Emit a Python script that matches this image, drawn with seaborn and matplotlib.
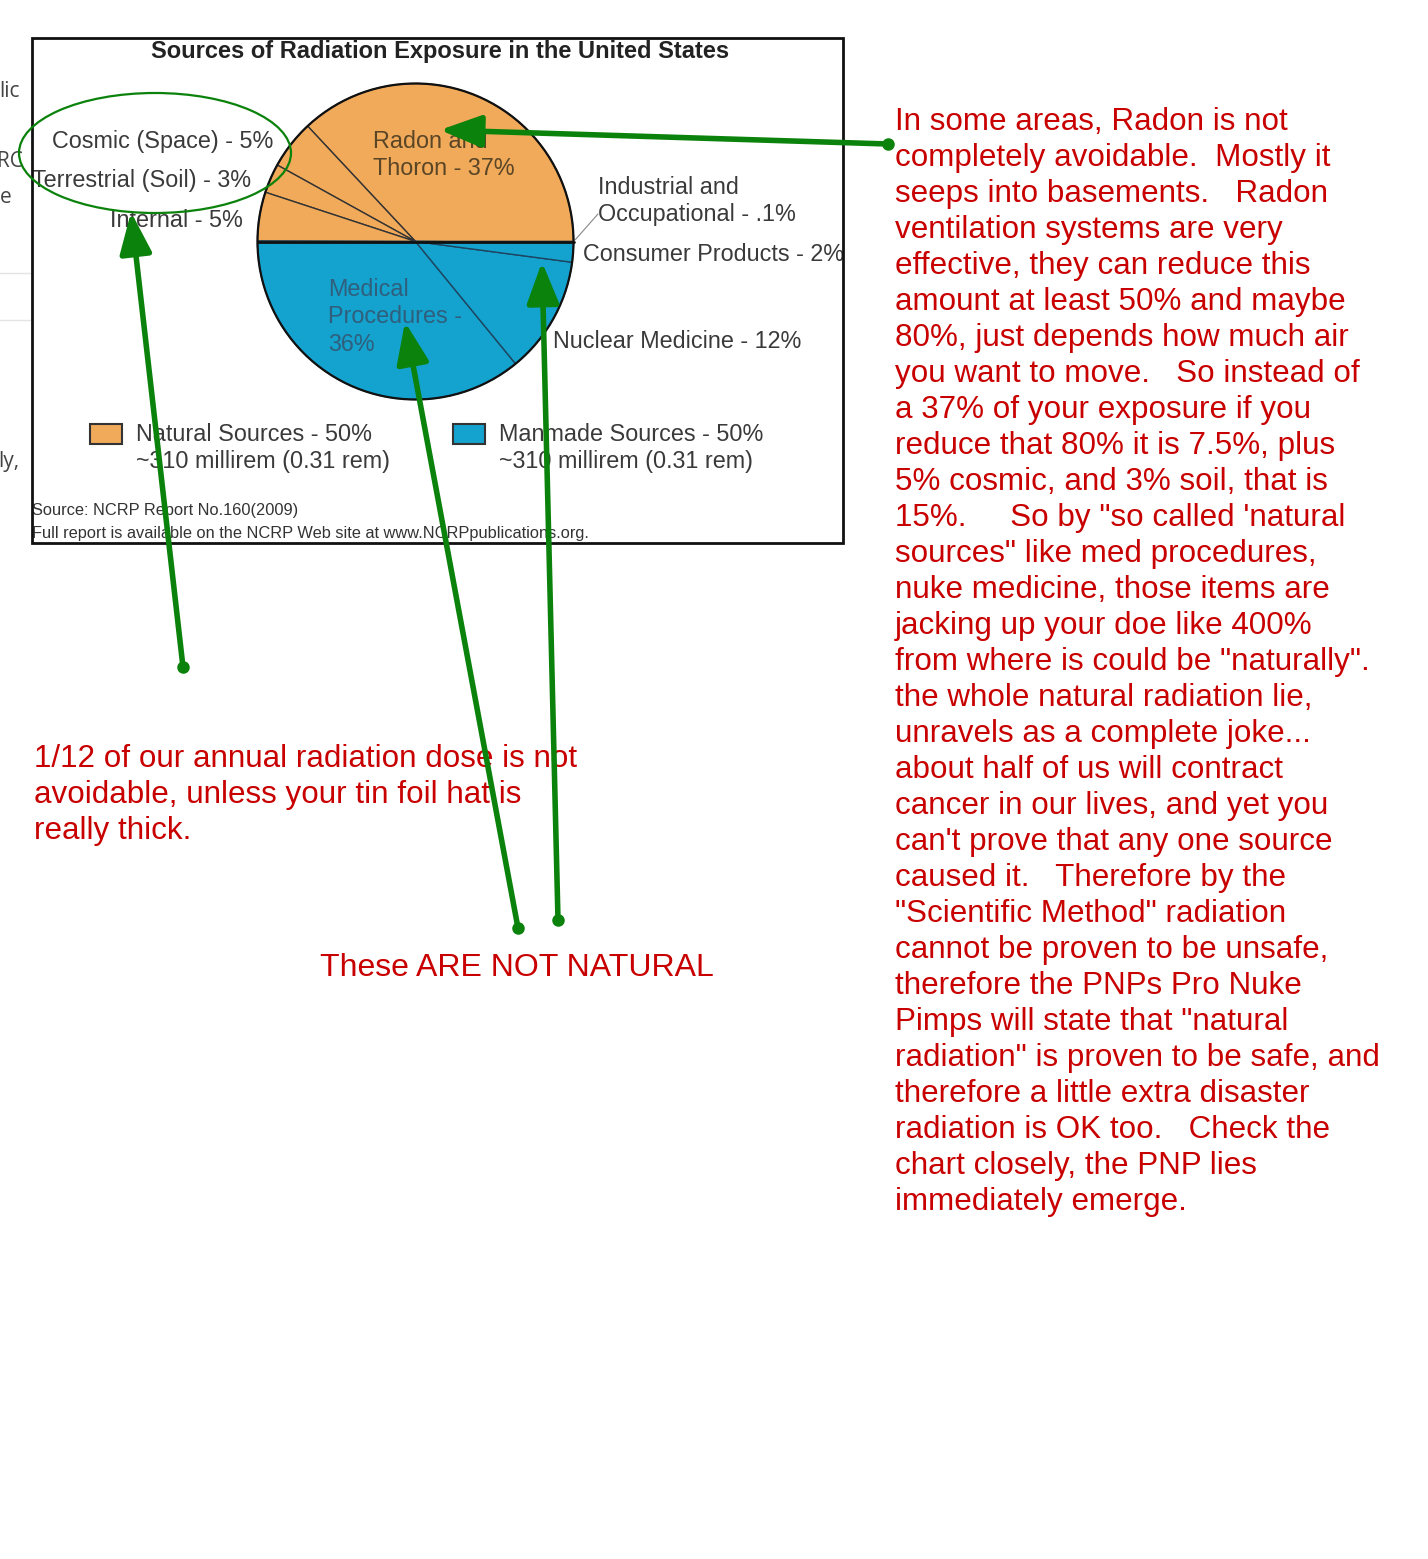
import matplotlib

matplotlib.use('Agg')

import matplotlib.pyplot as plt
import matplotlib.patches as mpatches
import seaborn as sns
import numpy as np

# pie data, counter-clockwise from 3 o'clock
slice_labels = ['Radon and Thoron', 'Cosmic (Space)', 'Terrestrial (Soil)', 'Internal',
                'Medical Procedures', 'Nuclear Medicine', 'Consumer Products',
                'Industrial and Occupational']
slice_pct = [37, 5, 3, 5, 36, 12, 2, 0.1]
slice_group = ['natural'] * 4 + ['manmade'] * 4

group_names = ['Natural Sources - 50%', 'Manmade Sources - 50%']
group_dose = ['~310 millirem (0.31 rem)', '~310 millirem (0.31 rem)']

right_note = [
    'In some areas, Radon is not',
    'completely avoidable.  Mostly it',
    'seeps into basements.   Radon',
    'ventilation systems are very',
    'effective, they can reduce this',
    'amount at least 50% and maybe',
    '80%, just depends how much air',
    'you want to move.   So instead of',
    'a 37% of your exposure if you',
    'reduce that 80% it is 7.5%, plus',
    '5% cosmic, and 3% soil, that is',
    '15%.     So by "so called \'natural',
    'sources" like med procedures,',
    'nuke medicine, those items are',
    'jacking up your doe like 400%',
    'from where is could be "naturally".',
    'the whole natural radiation lie,',
    'unravels as a complete joke...',
    'about half of us will contract',
    'cancer in our lives, and yet you',
    "can't prove that any one source",
    'caused it.   Therefore by the',
    '"Scientific Method" radiation',
    'cannot be proven to be unsafe,',
    'therefore the PNPs Pro Nuke',
    'Pimps will state that "natural',
    'radiation" is proven to be safe, and',
    'therefore a little extra disaster',
    'radiation is OK too.   Check the',
    'chart closely, the PNP lies',
    'immediately emerge.',
]
left_note = [
    '1/12 of our annual radiation dose is not',
    'avoidable, unless your tin foil hat is',
    'really thick.',
]
bottom_note = 'These ARE NOT NATURAL'

sns.set_theme(style='white')
plt.rcParams['font.family'] = ['Liberation Sans', 'DejaVu Sans']

ORANGE = '#F0AA5A'
BLUE = '#14A2CE'
RED = '#C80000'
GREEN = '#0B820B'
GRAY = '#3a3a3a'

W, H = 1428, 1559
fig = plt.figure(figsize=(W / 100, H / 100), dpi=100)
ax = fig.add_axes([0, 0, 1, 1])

cx, cy, r = 415.5, 241.5, 158
colors = [ORANGE if g == 'natural' else BLUE for g in slice_group]
wedges, _ = ax.pie(slice_pct, colors=colors, center=(cx, cy), radius=r,
                   startangle=0, counterclock=False,
                   wedgeprops=dict(linewidth=1.0, edgecolor='#333333'))
for w, g in zip(wedges, slice_group):
    if g == 'manmade':
        w.set_edgecolor('#1d4560')
ax.add_patch(mpatches.Circle((cx, cy), r, fill=False, ec='#111111', lw=1.6, zorder=3))
ax.plot([cx - r, cx + r], [cy, cy], color='#111111', lw=2, zorder=3)

ax.set_xlim(0, W)
ax.set_ylim(H, 0)
ax.axis('off')

# chart frame
box = mpatches.Rectangle((32, 38), 811, 505, fill=False, ec='#111111', lw=2, zorder=4)
ax.add_patch(box)

ax.text(440, 58, 'Sources of Radiation Exposure in the United States', ha='center',
        va='baseline', fontsize=17, fontweight='bold', color='#222222')

FS = 16.8
lab = dict(va='baseline', fontsize=FS, color=GRAY)
ax.text(52, 148, 'Cosmic (Space) - 5%', **lab)
ax.text(32, 187, 'Terrestrial (Soil) - 3%', **lab)
ax.text(110, 227, 'Internal - 5%', **lab)
ax.text(373, 148, 'Radon and', va='baseline', fontsize=FS, color='#5a4526')
ax.text(373, 175, 'Thoron - 37%', va='baseline', fontsize=FS, color='#5a4526')
ax.text(598, 194, 'Industrial and', **lab)
ax.text(598, 221, 'Occupational - .1%', **lab)
t = ax.text(583, 261, 'Consumer Products - 2%', **lab)
t.set_clip_path(box)
ax.text(328, 296, 'Medical', va='baseline', fontsize=FS, color='#2f5f7c')
ax.text(328, 323, 'Procedures -', va='baseline', fontsize=FS, color='#2f5f7c')
ax.text(328, 351, '36%', va='baseline', fontsize=FS, color='#2f5f7c')
ax.text(553, 348, 'Nuclear Medicine - 12%', **lab)
ax.plot([575, 598], [240, 214], color='#888888', lw=0.8)

# legend
for x0, c, name, dose in zip([90, 453], [ORANGE, BLUE], group_names, group_dose):
    ax.add_patch(mpatches.Rectangle((x0, 424), 32, 20, fc=c, ec='#333333', lw=1.5))
    ax.text(x0 + 46, 441, name, **lab)
    ax.text(x0 + 46, 468, dose, **lab)

ax.text(32, 515, 'Source: NCRP Report No.160(2009)', va='baseline', fontsize=11.8, color='#333333')
ax.text(32, 538, 'Full report is available on the NCRP Web site at www.NCRPpublications.org.',
        va='baseline', fontsize=11.8, color='#333333')

# cropped page remains at the left edge
side = dict(va='baseline', fontsize=15, color='#444444', family=['Open Sans', 'DejaVu Sans'])
ax.text(-1, 97, 'lic', **side)
ax.text(-3, 167, 'RC', **side)
ax.text(0, 203, 'e', **side)
ax.text(-2, 467, 'ly,', **side)
for yy in [273, 320]:
    ax.plot([0, 30], [yy, yy], color='#e4e4e4', lw=1)

# green highlight
ax.add_patch(mpatches.Ellipse((155, 153), 272, 120, fill=False, ec=GREEN, lw=1.6, zorder=5))

arrows = [((888, 144), (440, 130)), ((183, 667), (131, 212)),
          ((518, 928), (405, 322)), ((558, 920), (542, 262))]
for tail, head in arrows:
    ax.annotate('', xy=head, xytext=tail,
                arrowprops=dict(arrowstyle='-|>,head_length=0.9,head_width=0.35', lw=4,
                                color=GREEN, shrinkA=0, shrinkB=0, mutation_scale=28),
                zorder=6)
    ax.plot(*tail, 'o', color=GREEN, ms=8, zorder=6)

# red commentary
for i, line in enumerate(right_note):
    ax.text(895, 130 + 36 * i, line, va='baseline', fontsize=22.6, color=RED)
for i, line in enumerate(left_note):
    ax.text(34, 767 + 36 * i, line, va='baseline', fontsize=22.6, color=RED)
ax.text(320, 976, bottom_note, va='baseline', fontsize=23, color=RED)

fig.savefig('out.png', dpi=100, facecolor='white')
